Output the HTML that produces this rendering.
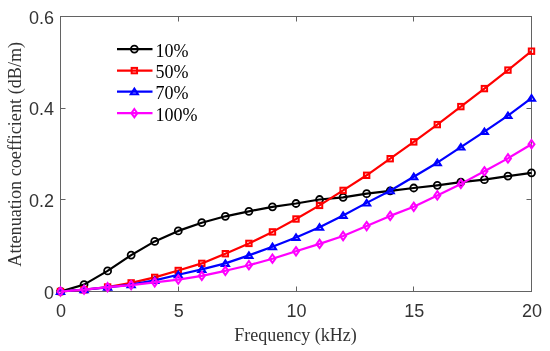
<!DOCTYPE html>
<html><head><meta charset="utf-8"><style>
html,body{margin:0;padding:0;background:#fff;}
body{width:550px;height:351px;overflow:hidden;}
svg{display:block;}
.tk{font-family:"Liberation Sans",Arial,sans-serif;font-size:18px;fill:#333;}
.lb{font-family:"Liberation Serif","Times New Roman",serif;font-size:18px;fill:#333;}
.lg{font-family:"Liberation Serif","Times New Roman",serif;font-size:18px;fill:#000;}
</style></head><body>
<svg width="550" height="351" viewBox="0 0 550 351">
<rect width="550" height="351" fill="#fff"/>
<rect x="60.5" y="16.5" width="471" height="275" fill="none" stroke="#636363" stroke-width="1"/>
<line x1="60.5" y1="291.5" x2="60.5" y2="286.5" stroke="#636363"/>
<line x1="60.5" y1="16.5" x2="60.5" y2="21.5" stroke="#636363"/>
<line x1="178.5" y1="291.5" x2="178.5" y2="286.5" stroke="#636363"/>
<line x1="178.5" y1="16.5" x2="178.5" y2="21.5" stroke="#636363"/>
<line x1="296.5" y1="291.5" x2="296.5" y2="286.5" stroke="#636363"/>
<line x1="296.5" y1="16.5" x2="296.5" y2="21.5" stroke="#636363"/>
<line x1="413.5" y1="291.5" x2="413.5" y2="286.5" stroke="#636363"/>
<line x1="413.5" y1="16.5" x2="413.5" y2="21.5" stroke="#636363"/>
<line x1="531.5" y1="291.5" x2="531.5" y2="286.5" stroke="#636363"/>
<line x1="531.5" y1="16.5" x2="531.5" y2="21.5" stroke="#636363"/>
<line x1="60.5" y1="291.5" x2="65.5" y2="291.5" stroke="#636363"/>
<line x1="531.5" y1="291.5" x2="526.5" y2="291.5" stroke="#636363"/>
<line x1="60.5" y1="199.5" x2="65.5" y2="199.5" stroke="#636363"/>
<line x1="531.5" y1="199.5" x2="526.5" y2="199.5" stroke="#636363"/>
<line x1="60.5" y1="108.5" x2="65.5" y2="108.5" stroke="#636363"/>
<line x1="531.5" y1="108.5" x2="526.5" y2="108.5" stroke="#636363"/>
<line x1="60.5" y1="16.5" x2="65.5" y2="16.5" stroke="#636363"/>
<line x1="531.5" y1="16.5" x2="526.5" y2="16.5" stroke="#636363"/>
<polyline points="60.50,291.50 84.05,284.60 107.60,270.90 131.15,255.10 154.70,241.40 178.25,230.90 201.80,222.70 225.35,216.30 248.90,211.30 272.45,206.80 296.00,203.50 319.55,199.50 343.10,197.30 366.65,193.70 390.20,190.80 413.75,188.00 437.30,185.30 460.85,182.20 484.40,179.70 507.95,176.10 531.50,172.80" fill="none" stroke="#000" stroke-width="2.2" stroke-linejoin="round"/>
<circle cx="60.50" cy="291.50" r="3.5" fill="none" stroke="#000" stroke-width="1.8"/>
<circle cx="84.05" cy="284.60" r="3.5" fill="none" stroke="#000" stroke-width="1.8"/>
<circle cx="107.60" cy="270.90" r="3.5" fill="none" stroke="#000" stroke-width="1.8"/>
<circle cx="131.15" cy="255.10" r="3.5" fill="none" stroke="#000" stroke-width="1.8"/>
<circle cx="154.70" cy="241.40" r="3.5" fill="none" stroke="#000" stroke-width="1.8"/>
<circle cx="178.25" cy="230.90" r="3.5" fill="none" stroke="#000" stroke-width="1.8"/>
<circle cx="201.80" cy="222.70" r="3.5" fill="none" stroke="#000" stroke-width="1.8"/>
<circle cx="225.35" cy="216.30" r="3.5" fill="none" stroke="#000" stroke-width="1.8"/>
<circle cx="248.90" cy="211.30" r="3.5" fill="none" stroke="#000" stroke-width="1.8"/>
<circle cx="272.45" cy="206.80" r="3.5" fill="none" stroke="#000" stroke-width="1.8"/>
<circle cx="296.00" cy="203.50" r="3.5" fill="none" stroke="#000" stroke-width="1.8"/>
<circle cx="319.55" cy="199.50" r="3.5" fill="none" stroke="#000" stroke-width="1.8"/>
<circle cx="343.10" cy="197.30" r="3.5" fill="none" stroke="#000" stroke-width="1.8"/>
<circle cx="366.65" cy="193.70" r="3.5" fill="none" stroke="#000" stroke-width="1.8"/>
<circle cx="390.20" cy="190.80" r="3.5" fill="none" stroke="#000" stroke-width="1.8"/>
<circle cx="413.75" cy="188.00" r="3.5" fill="none" stroke="#000" stroke-width="1.8"/>
<circle cx="437.30" cy="185.30" r="3.5" fill="none" stroke="#000" stroke-width="1.8"/>
<circle cx="460.85" cy="182.20" r="3.5" fill="none" stroke="#000" stroke-width="1.8"/>
<circle cx="484.40" cy="179.70" r="3.5" fill="none" stroke="#000" stroke-width="1.8"/>
<circle cx="507.95" cy="176.10" r="3.5" fill="none" stroke="#000" stroke-width="1.8"/>
<circle cx="531.50" cy="172.80" r="3.5" fill="none" stroke="#000" stroke-width="1.8"/>
<polyline points="60.50,291.50 84.05,289.80 107.60,287.00 131.15,282.90 154.70,277.40 178.25,270.50 201.80,263.40 225.35,253.70 248.90,243.40 272.45,231.90 296.00,219.00 319.55,205.40 343.10,190.40 366.65,175.30 390.20,158.70 413.75,141.90 437.30,124.60 460.85,106.60 484.40,88.60 507.95,70.10 531.50,51.20" fill="none" stroke="#f00" stroke-width="2.2" stroke-linejoin="round"/>
<rect x="57.80" y="288.80" width="5.4" height="5.4" fill="none" stroke="#f00" stroke-width="2.0"/>
<rect x="81.35" y="287.10" width="5.4" height="5.4" fill="none" stroke="#f00" stroke-width="2.0"/>
<rect x="104.90" y="284.30" width="5.4" height="5.4" fill="none" stroke="#f00" stroke-width="2.0"/>
<rect x="128.45" y="280.20" width="5.4" height="5.4" fill="none" stroke="#f00" stroke-width="2.0"/>
<rect x="152.00" y="274.70" width="5.4" height="5.4" fill="none" stroke="#f00" stroke-width="2.0"/>
<rect x="175.55" y="267.80" width="5.4" height="5.4" fill="none" stroke="#f00" stroke-width="2.0"/>
<rect x="199.10" y="260.70" width="5.4" height="5.4" fill="none" stroke="#f00" stroke-width="2.0"/>
<rect x="222.65" y="251.00" width="5.4" height="5.4" fill="none" stroke="#f00" stroke-width="2.0"/>
<rect x="246.20" y="240.70" width="5.4" height="5.4" fill="none" stroke="#f00" stroke-width="2.0"/>
<rect x="269.75" y="229.20" width="5.4" height="5.4" fill="none" stroke="#f00" stroke-width="2.0"/>
<rect x="293.30" y="216.30" width="5.4" height="5.4" fill="none" stroke="#f00" stroke-width="2.0"/>
<rect x="316.85" y="202.70" width="5.4" height="5.4" fill="none" stroke="#f00" stroke-width="2.0"/>
<rect x="340.40" y="187.70" width="5.4" height="5.4" fill="none" stroke="#f00" stroke-width="2.0"/>
<rect x="363.95" y="172.60" width="5.4" height="5.4" fill="none" stroke="#f00" stroke-width="2.0"/>
<rect x="387.50" y="156.00" width="5.4" height="5.4" fill="none" stroke="#f00" stroke-width="2.0"/>
<rect x="411.05" y="139.20" width="5.4" height="5.4" fill="none" stroke="#f00" stroke-width="2.0"/>
<rect x="434.60" y="121.90" width="5.4" height="5.4" fill="none" stroke="#f00" stroke-width="2.0"/>
<rect x="458.15" y="103.90" width="5.4" height="5.4" fill="none" stroke="#f00" stroke-width="2.0"/>
<rect x="481.70" y="85.90" width="5.4" height="5.4" fill="none" stroke="#f00" stroke-width="2.0"/>
<rect x="505.25" y="67.40" width="5.4" height="5.4" fill="none" stroke="#f00" stroke-width="2.0"/>
<rect x="528.80" y="48.50" width="5.4" height="5.4" fill="none" stroke="#f00" stroke-width="2.0"/>
<polyline points="60.50,291.50 84.05,289.70 107.60,287.30 131.15,284.70 154.70,280.40 178.25,274.70 201.80,269.40 225.35,263.40 248.90,255.40 272.45,246.70 296.00,237.40 319.55,227.30 343.10,215.40 366.65,202.90 390.20,190.80 413.75,176.70 437.30,162.70 460.85,147.10 484.40,131.60 507.95,115.60 531.50,98.20" fill="none" stroke="#00f" stroke-width="2.2" stroke-linejoin="round"/>
<polygon points="60.50,288.40 64.10,294.00 56.90,294.00" fill="none" stroke="#00f" stroke-width="2.0" stroke-linejoin="miter"/>
<polygon points="84.05,286.60 87.65,292.20 80.45,292.20" fill="none" stroke="#00f" stroke-width="2.0" stroke-linejoin="miter"/>
<polygon points="107.60,284.20 111.20,289.80 104.00,289.80" fill="none" stroke="#00f" stroke-width="2.0" stroke-linejoin="miter"/>
<polygon points="131.15,281.60 134.75,287.20 127.55,287.20" fill="none" stroke="#00f" stroke-width="2.0" stroke-linejoin="miter"/>
<polygon points="154.70,277.30 158.30,282.90 151.10,282.90" fill="none" stroke="#00f" stroke-width="2.0" stroke-linejoin="miter"/>
<polygon points="178.25,271.60 181.85,277.20 174.65,277.20" fill="none" stroke="#00f" stroke-width="2.0" stroke-linejoin="miter"/>
<polygon points="201.80,266.30 205.40,271.90 198.20,271.90" fill="none" stroke="#00f" stroke-width="2.0" stroke-linejoin="miter"/>
<polygon points="225.35,260.30 228.95,265.90 221.75,265.90" fill="none" stroke="#00f" stroke-width="2.0" stroke-linejoin="miter"/>
<polygon points="248.90,252.30 252.50,257.90 245.30,257.90" fill="none" stroke="#00f" stroke-width="2.0" stroke-linejoin="miter"/>
<polygon points="272.45,243.60 276.05,249.20 268.85,249.20" fill="none" stroke="#00f" stroke-width="2.0" stroke-linejoin="miter"/>
<polygon points="296.00,234.30 299.60,239.90 292.40,239.90" fill="none" stroke="#00f" stroke-width="2.0" stroke-linejoin="miter"/>
<polygon points="319.55,224.20 323.15,229.80 315.95,229.80" fill="none" stroke="#00f" stroke-width="2.0" stroke-linejoin="miter"/>
<polygon points="343.10,212.30 346.70,217.90 339.50,217.90" fill="none" stroke="#00f" stroke-width="2.0" stroke-linejoin="miter"/>
<polygon points="366.65,199.80 370.25,205.40 363.05,205.40" fill="none" stroke="#00f" stroke-width="2.0" stroke-linejoin="miter"/>
<polygon points="390.20,187.70 393.80,193.30 386.60,193.30" fill="none" stroke="#00f" stroke-width="2.0" stroke-linejoin="miter"/>
<polygon points="413.75,173.60 417.35,179.20 410.15,179.20" fill="none" stroke="#00f" stroke-width="2.0" stroke-linejoin="miter"/>
<polygon points="437.30,159.60 440.90,165.20 433.70,165.20" fill="none" stroke="#00f" stroke-width="2.0" stroke-linejoin="miter"/>
<polygon points="460.85,144.00 464.45,149.60 457.25,149.60" fill="none" stroke="#00f" stroke-width="2.0" stroke-linejoin="miter"/>
<polygon points="484.40,128.50 488.00,134.10 480.80,134.10" fill="none" stroke="#00f" stroke-width="2.0" stroke-linejoin="miter"/>
<polygon points="507.95,112.50 511.55,118.10 504.35,118.10" fill="none" stroke="#00f" stroke-width="2.0" stroke-linejoin="miter"/>
<polygon points="531.50,95.10 535.10,100.70 527.90,100.70" fill="none" stroke="#00f" stroke-width="2.0" stroke-linejoin="miter"/>
<polyline points="60.50,291.50 84.05,289.70 107.60,287.20 131.15,285.10 154.70,282.30 178.25,279.60 201.80,275.80 225.35,270.80 248.90,265.20 272.45,258.70 296.00,251.30 319.55,243.90 343.10,236.00 366.65,226.10 390.20,215.90 413.75,206.80 437.30,195.40 460.85,183.90 484.40,171.30 507.95,158.40 531.50,144.20" fill="none" stroke="#f0f" stroke-width="2.2" stroke-linejoin="round"/>
<polygon points="60.50,287.30 63.50,291.50 60.50,295.70 57.50,291.50" fill="none" stroke="#f0f" stroke-width="2.0"/>
<polygon points="84.05,285.50 87.05,289.70 84.05,293.90 81.05,289.70" fill="none" stroke="#f0f" stroke-width="2.0"/>
<polygon points="107.60,283.00 110.60,287.20 107.60,291.40 104.60,287.20" fill="none" stroke="#f0f" stroke-width="2.0"/>
<polygon points="131.15,280.90 134.15,285.10 131.15,289.30 128.15,285.10" fill="none" stroke="#f0f" stroke-width="2.0"/>
<polygon points="154.70,278.10 157.70,282.30 154.70,286.50 151.70,282.30" fill="none" stroke="#f0f" stroke-width="2.0"/>
<polygon points="178.25,275.40 181.25,279.60 178.25,283.80 175.25,279.60" fill="none" stroke="#f0f" stroke-width="2.0"/>
<polygon points="201.80,271.60 204.80,275.80 201.80,280.00 198.80,275.80" fill="none" stroke="#f0f" stroke-width="2.0"/>
<polygon points="225.35,266.60 228.35,270.80 225.35,275.00 222.35,270.80" fill="none" stroke="#f0f" stroke-width="2.0"/>
<polygon points="248.90,261.00 251.90,265.20 248.90,269.40 245.90,265.20" fill="none" stroke="#f0f" stroke-width="2.0"/>
<polygon points="272.45,254.50 275.45,258.70 272.45,262.90 269.45,258.70" fill="none" stroke="#f0f" stroke-width="2.0"/>
<polygon points="296.00,247.10 299.00,251.30 296.00,255.50 293.00,251.30" fill="none" stroke="#f0f" stroke-width="2.0"/>
<polygon points="319.55,239.70 322.55,243.90 319.55,248.10 316.55,243.90" fill="none" stroke="#f0f" stroke-width="2.0"/>
<polygon points="343.10,231.80 346.10,236.00 343.10,240.20 340.10,236.00" fill="none" stroke="#f0f" stroke-width="2.0"/>
<polygon points="366.65,221.90 369.65,226.10 366.65,230.30 363.65,226.10" fill="none" stroke="#f0f" stroke-width="2.0"/>
<polygon points="390.20,211.70 393.20,215.90 390.20,220.10 387.20,215.90" fill="none" stroke="#f0f" stroke-width="2.0"/>
<polygon points="413.75,202.60 416.75,206.80 413.75,211.00 410.75,206.80" fill="none" stroke="#f0f" stroke-width="2.0"/>
<polygon points="437.30,191.20 440.30,195.40 437.30,199.60 434.30,195.40" fill="none" stroke="#f0f" stroke-width="2.0"/>
<polygon points="460.85,179.70 463.85,183.90 460.85,188.10 457.85,183.90" fill="none" stroke="#f0f" stroke-width="2.0"/>
<polygon points="484.40,167.10 487.40,171.30 484.40,175.50 481.40,171.30" fill="none" stroke="#f0f" stroke-width="2.0"/>
<polygon points="507.95,154.20 510.95,158.40 507.95,162.60 504.95,158.40" fill="none" stroke="#f0f" stroke-width="2.0"/>
<polygon points="531.50,140.00 534.50,144.20 531.50,148.40 528.50,144.20" fill="none" stroke="#f0f" stroke-width="2.0"/>
<line x1="117" y1="49.05" x2="152.5" y2="49.05" stroke="#000" stroke-width="2.2"/>
<circle cx="134.35" cy="49.05" r="3.5" fill="none" stroke="#000" stroke-width="1.8"/>
<text x="155.4" y="56.55" class="lg">10%</text>
<line x1="117" y1="70.6" x2="152.5" y2="70.6" stroke="#f00" stroke-width="2.2"/>
<rect x="131.65" y="67.90" width="5.4" height="5.4" fill="none" stroke="#f00" stroke-width="2.0"/>
<text x="155.4" y="78.10" class="lg">50%</text>
<line x1="117" y1="91.7" x2="152.5" y2="91.7" stroke="#00f" stroke-width="2.2"/>
<polygon points="134.35,88.60 137.95,94.20 130.75,94.20" fill="none" stroke="#00f" stroke-width="2.0" stroke-linejoin="miter"/>
<text x="155.4" y="99.20" class="lg">70%</text>
<line x1="117" y1="113.2" x2="152.5" y2="113.2" stroke="#f0f" stroke-width="2.2"/>
<polygon points="134.35,109.00 137.35,113.20 134.35,117.40 131.35,113.20" fill="none" stroke="#f0f" stroke-width="2.0"/>
<text x="155.4" y="120.70" class="lg">100%</text>
<text x="61.10" y="316.5" text-anchor="middle" class="tk">0</text>
<text x="178.85" y="316.5" text-anchor="middle" class="tk">5</text>
<text x="296.60" y="316.5" text-anchor="middle" class="tk">10</text>
<text x="414.35" y="316.5" text-anchor="middle" class="tk">15</text>
<text x="532.10" y="316.5" text-anchor="middle" class="tk">20</text>
<text x="54.0" y="298.70" text-anchor="end" class="tk">0</text>
<text x="54.0" y="207.03" text-anchor="end" class="tk">0.2</text>
<text x="54.0" y="115.37" text-anchor="end" class="tk">0.4</text>
<text x="54.0" y="23.70" text-anchor="end" class="tk">0.6</text>
<text x="295.5" y="341" text-anchor="middle" class="lb">Frequency (kHz)</text>
<text transform="translate(21.1,154.3) rotate(-90)" text-anchor="middle" class="lb" style="font-size:18.2px">Attenuation coefficient (dB/m)</text>
</svg>
</body></html>
